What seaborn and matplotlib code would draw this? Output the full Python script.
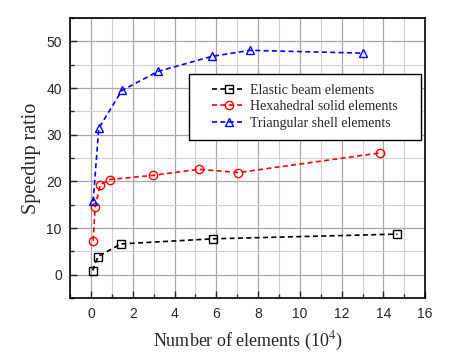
import numpy as np
import pandas as pd
import matplotlib
matplotlib.use('Agg')
import matplotlib.pyplot as plt
import seaborn as sns
from matplotlib.ticker import MultipleLocator
from matplotlib.legend_handler import HandlerLine2D

# Data (x in 10^4 elements)
beam_x = [0.08, 0.33, 1.43, 5.86, 14.67]
beam_y = [0.9, 3.9, 6.6, 7.7, 8.7]

hexa_x = [0.10, 0.20, 0.44, 0.89, 2.98, 5.17, 7.06, 13.83]
hexa_y = [7.3, 14.6, 19.3, 20.4, 21.3, 22.6, 21.9, 26.1]

tri_x = [0.10, 0.37, 1.48, 3.22, 5.78, 7.62, 13.0]
tri_y = [15.7, 31.4, 39.5, 43.6, 46.8, 48.1, 47.5]

labels = ['Elastic beam elements', 'Hexahedral solid elements', 'Triangular shell elements']


class ShiftedHandler(HandlerLine2D):
    # draws the legend line a bit in from the left edge of the handle box
    def __init__(self, shift=1.0, **kw):
        super().__init__(**kw)
        self.shift = shift

    def create_artists(self, legend, orig_handle, xdescent, ydescent,
                       width, height, fontsize, trans):
        s = self.shift * fontsize
        return super().create_artists(legend, orig_handle, xdescent - s, ydescent,
                                      width - s, height, fontsize, trans)


sns.set_style('ticks')
plt.rcParams['font.family'] = ['Liberation Serif', 'DejaVu Serif']
plt.rcParams['mathtext.fontset'] = 'stix'

fig = plt.figure(figsize=(4.74, 3.63), dpi=100)
ax = fig.add_axes([0.148, 0.179, 0.749, 0.771])

series = [
    (beam_x, beam_y, labels[0], 'black', 's'),
    (hexa_x, hexa_y, labels[1], 'red', 'o'),
    (tri_x, tri_y, labels[2], 'blue', '^'),
]
for xs, ys, lab, col, mk in series:
    df = pd.DataFrame({'x': xs, 'y': ys})
    sns.lineplot(data=df, x='x', y='y', ax=ax, sort=False, color=col,
                 linestyle=(0, (3, 2)), linewidth=1.2, marker=mk, markersize=6,
                 markerfacecolor='none', markeredgecolor=col, markeredgewidth=1.0,
                 label=lab, zorder=3)

ax.set_xlim(-1, 16)
ax.set_ylim(-5, 55)
ax.xaxis.set_major_locator(MultipleLocator(2))
ax.xaxis.set_minor_locator(MultipleLocator(1))
ax.yaxis.set_major_locator(MultipleLocator(10))
ax.yaxis.set_minor_locator(MultipleLocator(5))

ax.grid(True, which='major', color='#a8a8a8', linewidth=0.9)
ax.grid(True, which='minor', color='#d0d0d0', linewidth=0.8)
ax.set_axisbelow(True)

ax.tick_params(which='both', direction='in', top=False, right=False, width=1.0)
ax.tick_params(which='major', length=5)
ax.tick_params(which='minor', length=3)
for lbl in ax.get_xticklabels() + ax.get_yticklabels():
    lbl.set_family(['Liberation Sans', 'DejaVu Sans'])
    lbl.set_fontsize(10)
ax.tick_params(axis='x', pad=6.5)
ax.tick_params(axis='y', pad=6)

for sp in ax.spines.values():
    sp.set_linewidth(1.2)
    sp.set_color('black')

ax.set_xlabel('Number of elements (10$^4$)', fontsize=13, labelpad=6)
ax.set_ylabel('Speedup ratio', fontsize=14.5, labelpad=4)

handles, _ = ax.get_legend_handles_labels()
leg = ax.legend(handles, labels, loc='upper left', bbox_to_anchor=(0.335, 0.80, 0.654, 0),
                mode='expand', borderaxespad=0,
                fancybox=False, framealpha=1, edgecolor='black', fontsize=10,
                handlelength=3.35, handletextpad=0.3, borderpad=0.7, labelspacing=0.25,
                handler_map={h: ShiftedHandler(shift=0.95) for h in handles})
leg.get_frame().set_linewidth(1.0)

fig.savefig('out.png', dpi=100)
